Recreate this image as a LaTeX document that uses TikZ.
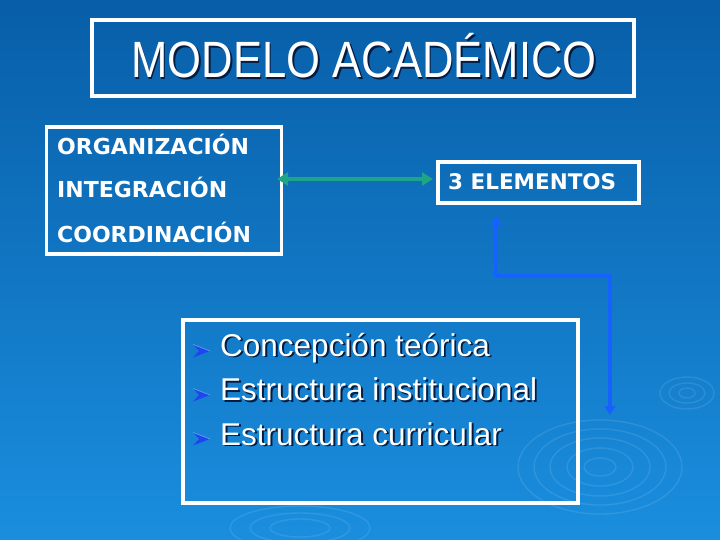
\documentclass[tikz,border=0pt]{standalone}
\usepackage{fontspec}
\setmainfont{Liberation Sans}
\newfontfamily\vfont{DejaVu Sans}
\usetikzlibrary{arrows.meta}
\definecolor{bgtop}{RGB}{8,94,168}
\definecolor{bgbot}{RGB}{26,142,222}
\definecolor{tealc}{RGB}{30,165,135}
\definecolor{bluec}{RGB}{22,98,255}
\definecolor{bulc}{RGB}{30,70,240}
\definecolor{shc}{RGB}{4,28,66}
\newcommand\shtx[1]{\makebox[0pt][l]{\hspace{1.8pt}\raisebox{-1.8pt}{\textcolor{shc}{#1}}}#1}
\begin{document}
\begin{tikzpicture}[x=1pt,y=-1pt,
  frame/.style={draw=white,line width=3.5pt,minimum width=#1,inner sep=0pt},
  boldtxt/.style={anchor=base west,text=white,inner sep=0pt,font=\vfont\bfseries\fontsize{#1}{24}\selectfont},
  boldtxt/.default=22,
  bigtxt/.style={anchor=base west,text=white,inner sep=0pt,font=\fontsize{31.5}{36}\selectfont},
  ripple/.style={draw=white,opacity=0.10,line width=1.4pt}]
\useasboundingbox (0,0) rectangle (720,540);
\shade[top color=bgtop,bottom color=bgbot] (0,0) rectangle (720,540);
% background ripples
\foreach \r/\s in {82/47,66/38,50/29,33/19,16/9}{\draw[ripple] (600,467) ellipse ({\r pt} and {\s pt});}
\foreach \r/\s in {27/16,18/10,8/5}{\draw[ripple] (687,393) ellipse ({\r pt} and {\s pt});}
\foreach \r/\s in {70/22,50/15,30/9}{\draw[ripple] (300,528) ellipse ({\r pt} and {\s pt});}
% title
\node[frame=542pt,minimum height=76pt] (tbox) at (363,58) {};
\node[anchor=base,inner sep=0pt,text=white,font=\fontsize{51}{60}\selectfont] (title) at (364,78) {\scalebox{0.855}[1]{\shtx{MODELO ACADÉMICO}}};
% left box
\node[frame=235pt,minimum height=127pt] (left) at (164,190.5) {};
\node[boldtxt] (l1) at (57,155) {ORGANIZACIÓN};
\node[boldtxt] (l2) at (57,198) {INTEGRACIÓN};
\node[boldtxt] (l3) at (57,243) {COORDINACIÓN};
% right box
\node[frame=201pt,minimum height=41pt] (elem) at (538.5,182.5) {};
\node[boldtxt=21.5] (etxt) at (448,190) {3 ELEMENTOS};
% green double arrow
\coordinate (ga) at (277,179);
\coordinate (gb) at (433,179);
\draw[tealc,line width=4.2pt,{Triangle[length=11pt,width=13pt]}-{Triangle[length=11pt,width=13pt]}] (ga) -- (gb);
% bottom box
\node[frame=395pt,minimum height=183pt] (bbox) at (380.5,411.5) {};
\foreach \y in {351,395,439}{
  \fill[bulc] (193,\y-6.5) -- (210,\y) -- (193,\y+6.5) -- (199,\y) -- cycle;
  \draw[white,opacity=0.35,line width=0.7pt] (193,\y-6.5) -- (210,\y);
}
\node[bigtxt] (b1) at (220,356) {\shtx{Concepción teórica}};
\node[bigtxt] (b2) at (220,400.5) {\shtx{Estructura institucional}};
\node[bigtxt] (b3) at (220,445) {\shtx{Estructura curricular}};
% blue connector
\coordinate (ctop) at (496,216);
\coordinate (ck1) at (496,276);
\coordinate (ck2) at (610,276);
\coordinate (cbot) at (610,415);
\draw[bluec,line width=4.5pt,line join=miter,{Triangle[length=9pt,width=11pt]}-{Triangle[length=9pt,width=11pt]}] (ctop) -- (ck1) -- (ck2) -- (cbot);
\end{tikzpicture}
\end{document}
